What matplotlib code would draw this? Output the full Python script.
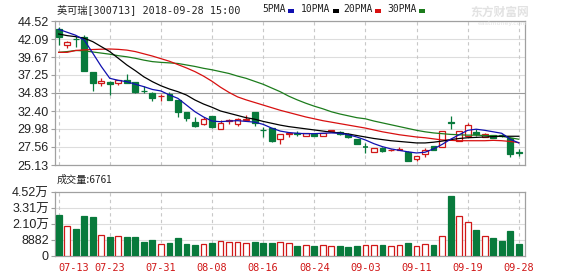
import numpy as np
import matplotlib
matplotlib.use('Agg')
import matplotlib.pyplot as plt
from matplotlib.patches import Rectangle

# ---------------- data ----------------
dates = ['07-13', '07-16', '07-17', '07-18', '07-19', '07-20', '07-23', '07-24', '07-25', '07-26',
         '07-27', '07-30', '07-31', '08-01', '08-02', '08-03', '08-06', '08-07', '08-08', '08-09',
         '08-10', '08-13', '08-14', '08-15', '08-16', '08-17', '08-20', '08-21', '08-22', '08-23',
         '08-24', '08-27', '08-28', '08-29', '08-30', '08-31', '09-03', '09-04', '09-05', '09-06',
         '09-07', '09-10', '09-11', '09-12', '09-13', '09-14', '09-17', '09-18', '09-19', '09-20',
         '09-21', '09-25', '09-26', '09-27', '09-28']
date_labels = ['07-13', '07-23', '07-31', '08-08', '08-16', '08-24', '09-03', '09-11', '09-19', '09-28']

opens = [43.40, 41.33, 42.14, 42.41, 37.65, 36.21, 36.35, 36.12, 36.53, 36.26,
         35.14, 34.87, 34.38, 34.70, 33.85, 32.24, 30.90, 30.60, 31.68, 29.95,
         31.05, 30.65, 31.20, 32.22, 29.90, 30.07, 28.58, 29.30, 29.44, 29.03,
         29.30, 29.08, 29.70, 29.62, 29.35, 28.58, 27.60, 26.92, 27.37, 27.10,
         27.20, 26.92, 25.89, 26.56, 27.69, 27.51, 30.90, 28.40, 29.08, 29.62,
         28.94, 29.17, 29.17, 28.72, 26.90]
highs = [43.67, 41.87, 42.50, 42.64, 37.65, 36.80, 36.44, 36.62, 37.38, 36.30,
         35.77, 35.00, 34.69, 35.00, 33.88, 32.26, 31.64, 31.55, 31.75, 31.19,
         31.37, 31.40, 31.86, 32.25, 30.29, 30.07, 29.26, 29.60, 29.70, 29.45,
         29.35, 29.50, 29.90, 29.70, 29.40, 28.60, 28.05, 27.40, 27.60, 27.30,
         27.50, 26.95, 26.40, 27.37, 27.70, 29.75, 31.73, 29.75, 30.74, 29.93,
         29.48, 29.20, 29.25, 28.85, 27.30]
lows = [41.30, 40.89, 40.97, 37.80, 35.14, 35.77, 34.51, 35.86, 36.12, 34.87,
        34.78, 33.79, 33.79, 33.88, 31.64, 31.10, 30.20, 30.47, 30.15, 29.93,
        30.65, 30.40, 31.00, 30.42, 28.94, 28.18, 27.91, 28.90, 29.05, 29.00,
        29.00, 29.05, 29.65, 29.20, 28.80, 27.90, 26.79, 26.90, 26.90, 26.95,
        27.10, 25.65, 25.68, 26.26, 27.10, 27.50, 29.93, 28.35, 29.00, 29.05,
        28.94, 28.75, 28.95, 26.26, 26.35]
closes = [42.41, 41.69, 42.05, 37.83, 36.21, 36.48, 36.04, 36.53, 36.17, 35.00,
          35.05, 34.20, 34.46, 33.92, 32.31, 31.50, 30.40, 31.38, 30.18, 30.80,
          31.15, 31.28, 31.35, 30.74, 29.80, 28.30, 29.26, 29.45, 29.30, 29.39,
          29.08, 29.48, 29.80, 29.26, 28.85, 27.91, 27.60, 27.37, 27.06, 27.20,
          27.30, 25.71, 26.34, 27.15, 27.15, 29.71, 30.75, 29.71, 30.51, 29.30,
          29.26, 28.81, 29.03, 26.56, 26.80]

ma5 = [43.40, 43.00, 42.60, 41.96, 40.20, 38.40, 36.80, 36.53, 36.35, 36.00,
       35.68, 35.30, 35.10, 34.56, 34.10, 33.20, 32.30, 31.60, 31.05, 30.96,
       31.05, 31.10, 31.00, 30.90, 30.60, 30.10, 29.70, 29.50, 29.40, 29.35,
       29.35, 29.40, 29.45, 29.40, 29.20, 28.90, 28.50, 28.00, 27.60, 27.30,
       27.10, 26.90, 26.75, 26.85, 27.30, 27.90, 28.60, 29.20, 29.80, 29.95,
       29.80, 29.60, 29.40, 28.60, 28.10]
ma10 = [42.77, 42.55, 42.41, 42.20, 41.74, 41.07, 40.40, 39.50, 38.60, 37.83,
        37.00, 36.35, 35.80, 35.36, 35.00, 34.55, 33.88, 33.34, 32.90, 32.40,
        32.10, 31.80, 31.50, 31.30, 31.00, 30.75, 30.50, 30.30, 30.15, 30.00,
        29.85, 29.70, 29.55, 29.45, 29.30, 29.10, 28.90, 28.70, 28.55, 28.40,
        28.30, 28.20, 28.10, 28.10, 28.20, 28.35, 28.55, 28.70, 28.80, 28.85,
        28.90, 28.95, 29.00, 29.00, 29.00]
ma20 = [40.30, 40.30, 40.55, 40.63, 40.68, 40.72, 40.75, 40.70, 40.60, 40.40,
        40.10, 39.80, 39.45, 39.10, 38.65, 38.20, 37.70, 37.10, 36.40, 35.60,
        34.90, 34.30, 33.90, 33.55, 33.20, 32.85, 32.50, 32.20, 31.90, 31.60,
        31.35, 31.10, 30.90, 30.70, 30.50, 30.30, 30.10, 29.85, 29.60, 29.40,
        29.20, 29.05, 28.90, 28.80, 28.65, 28.50, 28.45, 28.40, 28.40, 28.40,
        28.40, 28.45, 28.40, 28.30, 28.15]
ma30 = [40.30, 40.40, 40.55, 40.50, 40.35, 40.20, 40.05, 39.85, 39.70, 39.50,
        39.25, 39.05, 38.95, 38.88, 38.80, 38.60, 38.40, 38.15, 37.95, 37.70,
        37.45, 37.10, 36.80, 36.40, 36.00, 35.50, 35.00, 34.40, 33.90, 33.45,
        33.05, 32.70, 32.30, 32.00, 31.75, 31.50, 31.35, 31.05, 30.80, 30.55,
        30.30, 30.05, 29.80, 29.60, 29.45, 29.35, 29.25, 29.20, 29.15, 29.15,
        29.10, 29.05, 29.00, 28.80, 28.60]

volumes = [27800, 19240, 17200, 27030, 26260, 12660, 11160, 11900, 11160, 11160,
           7930, 8882, 6660, 7380, 10380, 6660, 6100, 6660, 7380, 8330,
           7930, 7930, 7380, 7930, 7380, 7380, 7930, 7050, 5550, 5940,
           5550, 5940, 5380, 5550, 5000, 5550, 6100, 6100, 6100, 5380,
           5940, 7220, 5380, 6660, 6100, 11680, 42160, 26790, 22490, 16440,
           11680, 10380, 8330, 15690, 6761]

price_ticks = [44.52, 42.09, 39.67, 37.25, 34.83, 32.40, 29.98, 27.56, 25.13]
vol_ticks = [0, 8882, 21000, 33100, 45200]
vol_tick_labels = ['0', '8882', '2.10万', '3.31万', '4.52万']
title_text = '英可瑞[300713] 2018-09-28 15:00'
ma_names = ['5PMA', '10PMA', '20PMA', '30PMA']
vol_title = '成交量:6761'

# ---------------- style ----------------
RED = '#D01818'
GREEN = '#087A3C'
MA_COLORS = ['#1010B0', '#000000', '#D81010', '#1C7C1C']
GRID = '#DDDDDD'
SPINE = '#A0A0A0'
W, H = 578, 276

fig = plt.figure(figsize=(W / 100, H / 100), dpi=100)
fig.patch.set_facecolor('white')

def fx(px):
    return px / W

def fy(py):
    return 1 - py / H

ax1 = fig.add_axes([fx(55), fy(165), fx(470), 144 / H])
ax2 = fig.add_axes([fx(55), fy(256), fx(470), 64 / H])

n = len(dates)
x = np.arange(n)
xl = (-0.43, n - 1 + 0.73)
label_idx = [dates.index(d) for d in date_labels]

# ---- price panel ----
ax1.set_xlim(*xl)
ax1.set_ylim(price_ticks[-1], price_ticks[0])
for k, t in enumerate(price_ticks):
    ax1.axhline(t, color='#9A9A9A' if k == len(price_ticks) // 2 else GRID,
                lw=0.8, zorder=0)
for i in label_idx:
    ax1.axvline(i, color='#C8C8C8', lw=0.8, ls=(0, (3, 3)), zorder=0)

bw = 0.68
for i in range(n):
    o, h, l, c = opens[i], highs[i], lows[i], closes[i]
    if c > o:
        col, hollow = RED, True
    elif c < o:
        col, hollow = GREEN, False
    else:
        col = RED if (i > 0 and c >= closes[i - 1]) else GREEN
        hollow = col == RED
    ax1.vlines(i, l, h, color=col, lw=0.9, zorder=2)
    body = abs(c - o)
    if body < 0.06:
        ax1.hlines(c, i - bw / 2, i + bw / 2, color=col, lw=1.2, zorder=3)
    else:
        ax1.bar(i, body, bottom=min(o, c), width=bw,
                facecolor='white' if hollow else col, edgecolor=col,
                lw=0.9, zorder=3)

for ma, colr in zip([ma30, ma20, ma10, ma5], MA_COLORS[::-1]):
    ax1.plot(x, ma, color=colr, lw=0.9, zorder=4)

ax1.set_xticks([])
ax1.set_yticks(price_ticks)
ax1.set_yticklabels(['%.2f' % t for t in price_ticks],
                    family=['Liberation Sans'], fontsize=9, color='#222222')
ax1.tick_params(axis='y', length=3, width=0.8, color=SPINE, pad=1.5)
for s in ax1.spines.values():
    s.set_color(SPINE)
    s.set_linewidth(0.9)

# ---- volume panel ----
fwd_pts = [0, 0.25, 0.5, 0.75, 1.0]

def vfwd(v):
    return np.interp(v, vol_ticks, fwd_pts)

def vinv(f):
    return np.interp(f, fwd_pts, vol_ticks)

ax2.set_yscale('function', functions=(vfwd, vinv))
ax2.set_xlim(*xl)
ax2.set_ylim(0, vol_ticks[-1])
for t in vol_ticks[1:-1]:
    ax2.axhline(t, color=GRID, lw=0.8, zorder=0)
for i in label_idx:
    ax2.axvline(i, color='#C8C8C8', lw=0.8, ls=(0, (3, 3)), zorder=0)

for i in range(n):
    up = closes[i] >= opens[i]
    col = RED if up else GREEN
    ax2.bar(i, volumes[i], width=bw, facecolor='white' if up else col,
            edgecolor=col, lw=0.9, zorder=3)

ax2.set_yticks(vol_ticks)
ax2.set_yticklabels(vol_tick_labels, family=['Liberation Sans', 'Noto Sans CJK SC'],
                    fontsize=9, color='#222222')
ax2.yaxis.set_minor_locator(matplotlib.ticker.NullLocator())
ax2.tick_params(axis='y', length=3, width=0.8, color=SPINE, pad=1.5)
ax2.set_xticks(label_idx)
ax2.set_xticklabels(date_labels, family=['DejaVu Sans Mono'], fontsize=7.4, color=RED)
ax2.tick_params(axis='x', length=0, pad=5)
ax2.get_xticklabels()[0].set_ha('left')
for s in ax2.spines.values():
    s.set_color(SPINE)
    s.set_linewidth(0.9)

# ---- header texts ----
mono_cjk = ['DejaVu Sans Mono', 'Noto Sans CJK SC']
fig.text(fx(57), fy(9.5), title_text, family=mono_cjk, fontsize=7.3,
         color='#222222', va='center', ha='left')
legend_x = [262, 301, 343, 387]
for name, lx, colr in zip(ma_names, legend_x, MA_COLORS):
    t = fig.text(fx(lx), fy(9.5), name, family=['DejaVu Sans Mono'], fontsize=7.0,
                 color='#222222', va='center', ha='left')
    wpx = len(name) * 6.0
    fig.add_artist(Rectangle((fx(lx + wpx + 2), fy(12.5)), fx(6), 3 / H,
                             transform=fig.transFigure, facecolor=colr,
                             edgecolor='none'))

fig.text(fx(57), fy(180), vol_title, family=['Noto Sans CJK SC', 'DejaVu Sans'],
         fontsize=7.3, color='#222222', va='center', ha='left')

# watermark
fig.text(fx(470), fy(12), '东方财富网', family=['Noto Sans CJK SC'], fontsize=8.5,
         color='#E2E2E2', va='center', ha='left', weight='bold', zorder=0)
fig.text(fx(478), fy(23), 'eastmoney.com', family=['DejaVu Sans'], fontsize=4.5,
         color='#E2E2E2', va='center', ha='left', zorder=0)

fig.savefig('out.png', dpi=100, facecolor='white')
